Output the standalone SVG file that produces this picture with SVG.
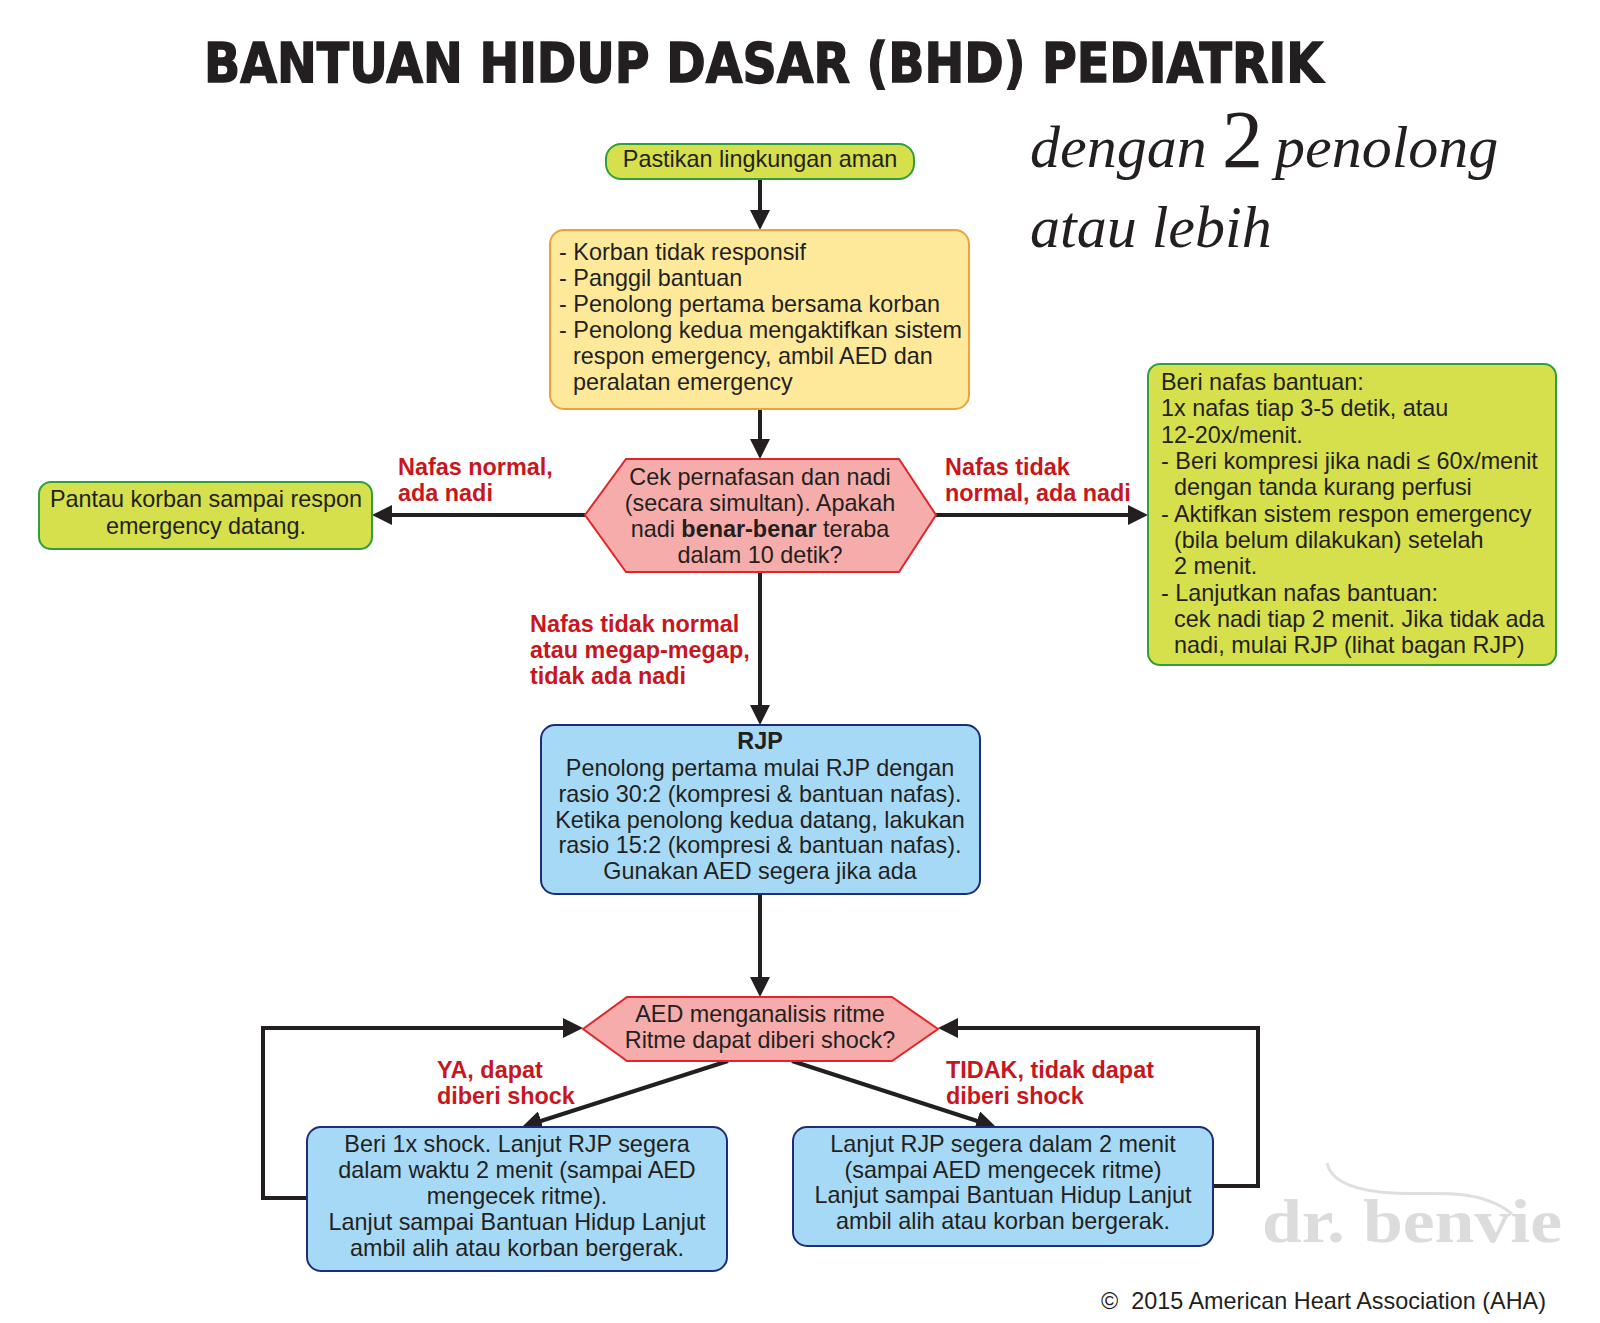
<svg xmlns="http://www.w3.org/2000/svg" width="1600" height="1323" viewBox="0 0 1600 1323">
<defs>
<marker id="ah" markerUnits="userSpaceOnUse" markerWidth="20" markerHeight="20" refX="10" refY="10" orient="auto">
<path d="M0,0 L20,10 L0,20 z" fill="#231f20"/>
</marker>
<style>
.t{font-family:"Liberation Sans",Arial,sans-serif;font-size:23.4px;fill:#231f20}
.c{text-anchor:middle}
.b{font-weight:bold}
.lbl{font-family:"Liberation Sans",Arial,sans-serif;font-size:23.4px;font-weight:bold;fill:#c8161d}
.green{fill:#d6e04c;stroke:#2f9e3c;stroke-width:2}
.yellow{fill:#fee99b;stroke:#f0a23a;stroke-width:2}
.pink{fill:#f5acab;stroke:#e0262b;stroke-width:2}
.blue{fill:#a6d9f5;stroke:#1e2d78;stroke-width:2}
.con{fill:none;stroke:#231f20;stroke-width:4}
</style>
</defs>
<rect width="1600" height="1323" fill="#ffffff"/>

<g id="title">
<text x="204" y="82" font-family="'DejaVu Sans',sans-serif" font-weight="bold" font-size="56" fill="#231f20" stroke="#231f20" stroke-width="1.5" textLength="1119" lengthAdjust="spacingAndGlyphs">BANTUAN HIDUP DASAR (BHD) PEDIATRIK</text>
<text font-family="'Liberation Serif',serif" font-size="60" fill="#231f20"><tspan x="1030" y="167" font-style="italic">dengan</tspan><tspan x="1222" y="167" font-size="82">2</tspan><tspan x="1275" y="167" font-style="italic">penolong</tspan><tspan x="1030" y="247" font-style="italic">atau lebih</tspan></text>
</g>

<g id="watermark" opacity="0.9">
<path d="M1327,1163 C1330,1178 1345,1188 1380,1192 C1420,1196 1450,1190 1480,1198 C1495,1202 1505,1208 1512,1214" fill="none" stroke="#dcdcdc" stroke-width="3"/>
<text x="1262" y="1242" font-family="'Liberation Serif',serif" font-weight="bold" font-size="62" fill="#d9d9d9" textLength="300" lengthAdjust="spacingAndGlyphs">dr. benvie</text>
</g>

<g id="connectors">
<line class="con" x1="760" y1="179" x2="760" y2="220" marker-end="url(#ah)"/>
<line class="con" x1="760" y1="409" x2="760" y2="449" marker-end="url(#ah)"/>
<line class="con" x1="585" y1="515" x2="382" y2="515" marker-end="url(#ah)"/>
<line class="con" x1="936" y1="515" x2="1138" y2="515" marker-end="url(#ah)"/>
<line class="con" x1="760" y1="572" x2="760" y2="715" marker-end="url(#ah)"/>
<line class="con" x1="760" y1="894" x2="760" y2="987" marker-end="url(#ah)"/>
<line class="con" x1="728" y1="1061" x2="531.5" y2="1124" marker-end="url(#ah)"/>
<line class="con" x1="792" y1="1061" x2="986.5" y2="1124" marker-end="url(#ah)"/>
<polyline class="con" points="307,1198 263,1198 263,1028 573,1028" marker-end="url(#ah)"/>
<polyline class="con" points="1213,1186 1258,1186 1258,1028 948,1028" marker-end="url(#ah)"/>
<text class="lbl" x="398" y="475">Nafas normal,</text>
<text class="lbl" x="398" y="501">ada nadi</text>
<text class="lbl" x="945" y="475">Nafas tidak</text>
<text class="lbl" x="945" y="501">normal, ada nadi</text>
<text class="lbl" x="530" y="632">Nafas tidak normal</text>
<text class="lbl" x="530" y="658">atau megap-megap,</text>
<text class="lbl" x="530" y="684">tidak ada nadi</text>
<text class="lbl" x="437" y="1078">YA, dapat</text>
<text class="lbl" x="437" y="1104">diberi shock</text>
<text class="lbl" x="946" y="1078">TIDAK, tidak dapat</text>
<text class="lbl" x="946" y="1104">diberi shock</text>
</g>

<g id="node-start">
<rect class="green" x="606" y="144" width="308" height="35" rx="15"/>
<text class="t c" x="760" y="167">Pastikan lingkungan aman</text>
</g>

<g id="node-unresponsive">
<rect class="yellow" x="550" y="230" width="419" height="179" rx="14"/>
<text class="t" x="559" y="260">- Korban tidak responsif</text>
<text class="t" x="559" y="286">- Panggil bantuan</text>
<text class="t" x="559" y="312">- Penolong pertama bersama korban</text>
<text class="t" x="559" y="338">- Penolong kedua mengaktifkan sistem</text>
<text class="t" x="573" y="364">respon emergency, ambil AED dan</text>
<text class="t" x="573" y="390">peralatan emergency</text>
</g>

<g id="node-check">
<polygon class="pink" points="585,515 626,459 899,459 936,515 899,572 626,572"/>
<text class="t c" x="760" y="485">Cek pernafasan dan nadi</text>
<text class="t c" x="760" y="511">(secara simultan). Apakah</text>
<text class="t c" x="760" y="537">nadi <tspan class="b">benar-benar</tspan> teraba</text>
<text class="t c" x="760" y="563">dalam 10 detik?</text>
</g>

<g id="node-monitor">
<rect class="green" x="39" y="482" width="333" height="67" rx="12"/>
<text class="t c" x="206" y="507">Pantau korban sampai respon</text>
<text class="t c" x="206" y="534">emergency datang.</text>
</g>

<g id="node-rescue-breathing">
<rect class="green" x="1148" y="364" width="408" height="301" rx="12"/>
<text class="t" x="1161" y="390">Beri nafas bantuan:</text>
<text class="t" x="1161" y="416">1x nafas tiap 3-5 detik, atau</text>
<text class="t" x="1161" y="443">12-20x/menit.</text>
<text class="t" x="1161" y="469">- Beri kompresi jika nadi ≤ 60x/menit</text>
<text class="t" x="1174" y="495">dengan tanda kurang perfusi</text>
<text class="t" x="1161" y="522">- Aktifkan sistem respon emergency</text>
<text class="t" x="1174" y="548">(bila belum dilakukan) setelah</text>
<text class="t" x="1174" y="574">2 menit.</text>
<text class="t" x="1161" y="601">- Lanjutkan nafas bantuan:</text>
<text class="t" x="1174" y="627">cek nadi tiap 2 menit. Jika tidak ada</text>
<text class="t" x="1174" y="653">nadi, mulai RJP (lihat bagan RJP)</text>
</g>

<g id="node-rjp">
<rect class="blue" x="541" y="725" width="439" height="169" rx="14"/>
<text class="t c b" x="760" y="749">RJP</text>
<text class="t c" x="760" y="776">Penolong pertama mulai RJP dengan</text>
<text class="t c" x="760" y="802">rasio 30:2 (kompresi &amp; bantuan nafas).</text>
<text class="t c" x="760" y="828">Ketika penolong kedua datang, lakukan</text>
<text class="t c" x="760" y="853">rasio 15:2 (kompresi &amp; bantuan nafas).</text>
<text class="t c" x="760" y="879">Gunakan AED segera jika ada</text>
</g>

<g id="node-aed">
<polygon class="pink" points="583,1029 627,997 892,997 938,1029 892,1061 627,1061"/>
<text class="t c" x="760" y="1022">AED menganalisis ritme</text>
<text class="t c" x="760" y="1048">Ritme dapat diberi shock?</text>
</g>

<g id="node-shock">
<rect class="blue" x="307" y="1127" width="420" height="144" rx="14"/>
<text class="t c" x="517" y="1152">Beri 1x shock. Lanjut RJP segera</text>
<text class="t c" x="517" y="1178">dalam waktu 2 menit (sampai AED</text>
<text class="t c" x="517" y="1204">mengecek ritme).</text>
<text class="t c" x="517" y="1230">Lanjut sampai Bantuan Hidup Lanjut</text>
<text class="t c" x="517" y="1256">ambil alih atau korban bergerak.</text>
</g>

<g id="node-noshock">
<rect class="blue" x="793" y="1127" width="420" height="119" rx="14"/>
<text class="t c" x="1003" y="1152">Lanjut RJP segera dalam 2 menit</text>
<text class="t c" x="1003" y="1178">(sampai AED mengecek ritme)</text>
<text class="t c" x="1003" y="1203">Lanjut sampai Bantuan Hidup Lanjut</text>
<text class="t c" x="1003" y="1229">ambil alih atau korban bergerak.</text>
</g>

<g id="footer">
<text class="t" x="1546" y="1309" text-anchor="end">©&#160; 2015 American Heart Association (AHA)</text>
</g>
</svg>
